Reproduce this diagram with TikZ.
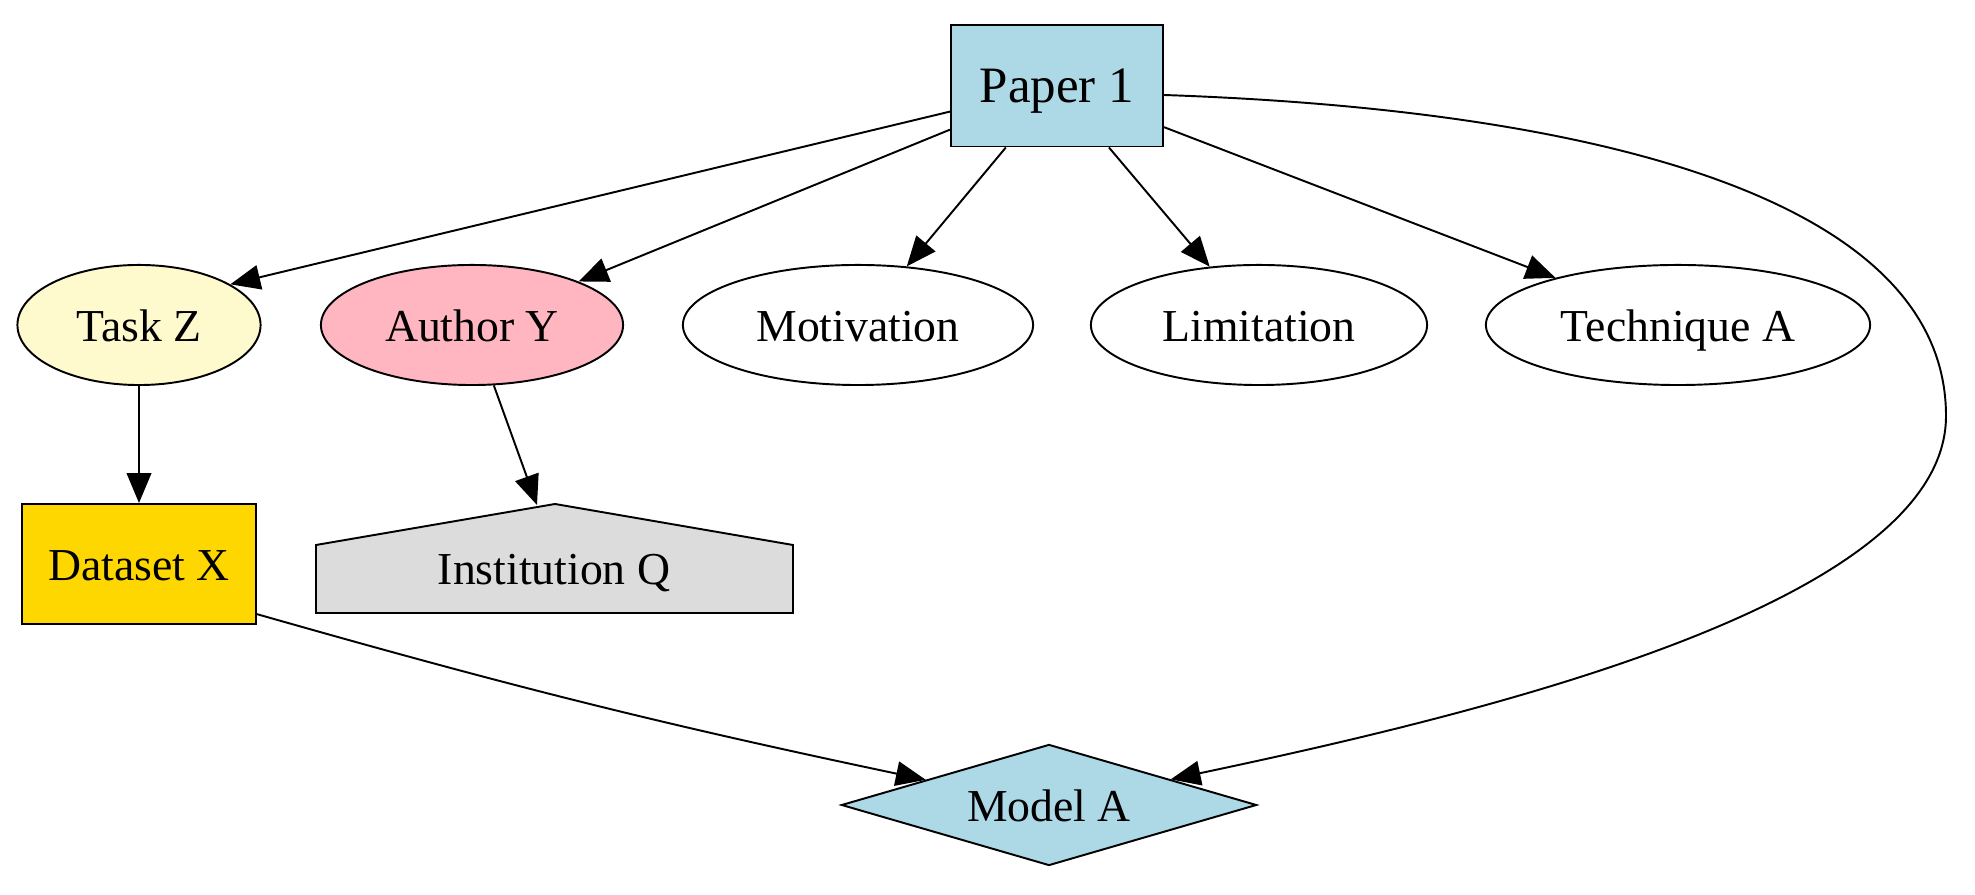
\documentclass[tikz,border=0pt]{standalone}
\usepackage{fontspec}
\setmainfont{Liberation Serif}
\usetikzlibrary{shapes.geometric,arrows.meta}
\definecolor{paperblue}{HTML}{ADD8E6}
\definecolor{lemon}{HTML}{FFFACD}
\definecolor{rosy}{HTML}{FFB6C1}
\definecolor{golden}{HTML}{FFD700}
\definecolor{greyish}{HTML}{DCDCDC}

\begin{document}
\begin{tikzpicture}[x=0.01cm, y=-0.01cm, line width=0.55pt,
		every node/.style={font=\fontsize{13}{15}\selectfont, inner sep=0pt, text height=12.5pt, text depth=3pt},
		box/.style={rectangle,draw},
		oval/.style={ellipse,draw,minimum height=1.2cm},
		>={Triangle[length=8.5pt,width=7pt]}
		]
	\useasboundingbox (0,0) rectangle (1975,895);
	\node [box,fill=paperblue,minimum width=2.12cm,minimum height=1.21cm,font=\fontsize{14.5}{17}\selectfont,text height=12.5pt] (paper) at (1057,86) {Paper 1};
	\node [oval,fill=lemon,minimum width=2.43cm] (taskz) at (139,325) {Task Z};
	\node [oval,fill=rosy,minimum width=3.02cm] (authory) at (472,325) {Author Y};
	\node [oval,minimum width=3.5cm] (motivation) at (858,325) {Motivation};
	\node [oval,minimum width=3.36cm] (limitation) at (1259,325) {Limitation};
	\node [oval,minimum width=3.84cm] (technique) at (1678,325) {Technique A};
	\node [box,fill=golden,minimum width=2.33cm,minimum height=1.2cm] (dataset) at (139,564) {Dataset X};
	% house shaped box
	\draw [fill=greyish] (316,613) -- (316,545) -- (555,504) -- (793,545) -- (793,613) -- cycle;
	\node (institution) at (554,568) {Institution Q};
	\coordinate (insttop) at (537,505);
	\node [diamond,draw,fill=paperblue,aspect=3.4,minimum width=4.15cm,minimum height=1.21cm] (modela) at (1049,805) {Model A};

	\draw [->] (paper) -- (taskz.24);
	\draw [->] (paper) -- (authory);
	\draw [->] (paper) -- (motivation);
	\draw [->] (paper) -- (limitation);
	\draw [->] (paper) -- (technique);
	\draw [->] ([yshift=-0.09cm]paper.east) .. controls (1600,110) and (1946,200) .. (1946,416)
		.. controls (1946,600) and (1500,710) .. (modela);
	\draw [->] (taskz) -- (dataset);
	\draw [->] (authory) -- (insttop);
	\draw [->] ([yshift=-0.5cm]dataset.east) to[bend right=2] (modela);
\end{tikzpicture}
\end{document}
